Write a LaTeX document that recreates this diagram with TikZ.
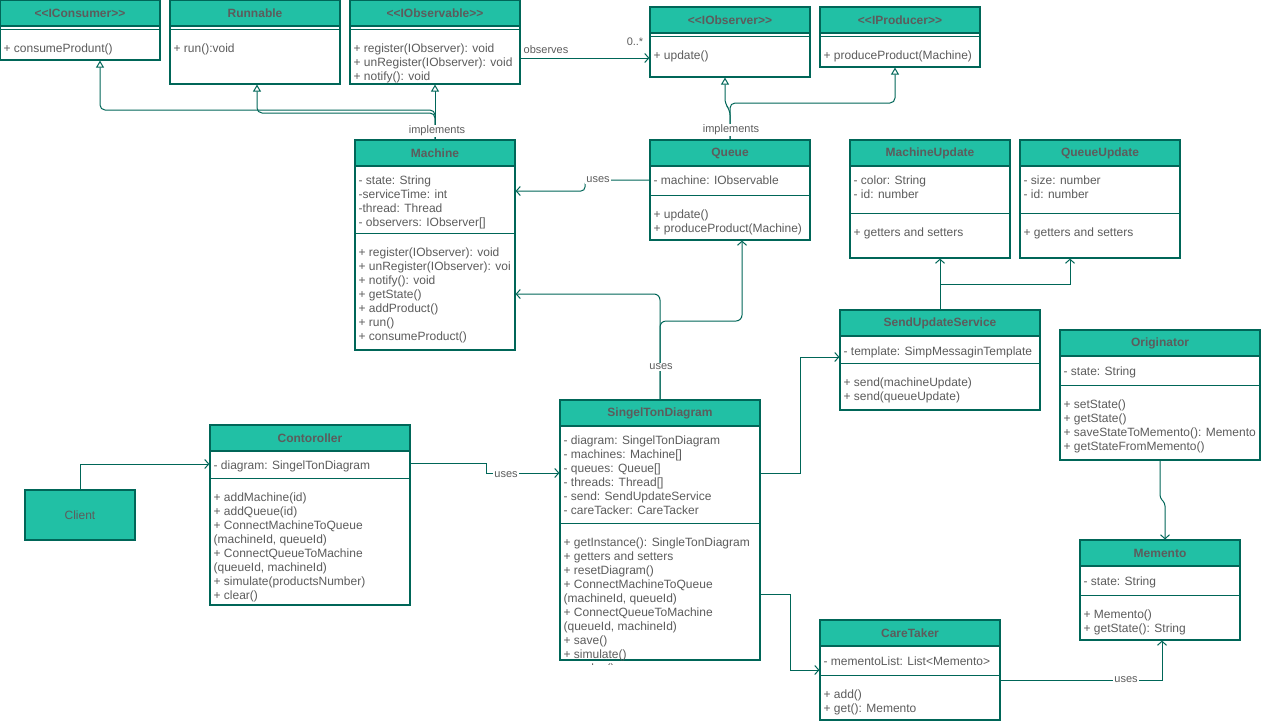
\documentclass[tikz,border=0pt]{standalone}
\usepackage{fontspec}
\setmainfont{Liberation Sans}
\usetikzlibrary{arrows.meta}

\definecolor{umlfill}{HTML}{21C0A5}
\definecolor{umlline}{HTML}{006658}
\definecolor{umltext}{HTML}{5C5C5C}

\tikzset{
  classbox/.style={draw=umlline, fill=white, line width=1.2pt, inner sep=0pt},
  classhead/.style={draw=umlline, fill=umlfill, line width=1.2pt, minimum height=26pt, inner sep=0pt,
    text=umltext, font=\fontsize{12}{14}\selectfont\bfseries},
  members/.style={anchor=north west, inner sep=0pt, align=left, text=umltext,
    font=\fontsize{12}{14}\selectfont},
  sepline/.style={draw=umlline, line width=1.2pt},
  assoc/.style={draw=umlline, line width=1pt, -{Straight Barb[length=4pt,width=9pt]}},
  realize/.style={draw=umlline, line width=1pt, rounded corners=5pt,
    -{Triangle[open,length=7pt,width=8pt,fill=white]}},
  edgelabel/.style={fill=white, inner sep=1pt, text=umltext, font=\fontsize{11}{13}\selectfont},
}

% class box: name, left, top, width, height, title
\newcommand{\umlclass}[6]{%
  \node[classbox, minimum width=#4pt, minimum height=#5pt] (#1) at (#2+#4/2,#3+#5/2) {};
  \node[classhead, minimum width=#4pt, anchor=north] (#1-head) at (#1.north) {#6};
}
% separator line: name, offset from top
\newcommand{\umlsep}[2]{%
  \draw[sepline] ([yshift=-#2pt]#1.north west) -- ([yshift=-#2pt]#1.north east);
}
% stereotype brackets
\newcommand{\stereo}[1]{\textless\kern0pt\textless #1\textgreater\kern0pt\textgreater}
% fixed height of the first member line
\newcommand{\memstrut}{\rule{0pt}{12pt}}

\begin{document}
\begin{tikzpicture}[x=1pt,y=-1pt]
      \useasboundingbox (0,0) rectangle (1261,724);

      % Interfaces
      \umlclass{iconsumer}{0}{0}{160}{60}{\stereo{IConsumer}}
      \umlsep{iconsumer}{30}
      \node[members] (iconsumer-m) at ([xshift=4pt,yshift=-41pt]iconsumer.north west) {\memstrut+ consumeProdunt()};

      \umlclass{runnable}{170}{0}{170}{84}{Runnable}
      \umlsep{runnable}{30}
      \node[members] (runnable-m) at ([xshift=4pt,yshift=-41pt]runnable.north west) {\memstrut+ run():void};

      \umlclass{iobservable}{350}{0}{170}{84}{\stereo{IObservable}}
      \umlsep{iobservable}{30}
      \node[members] (iobservable-m) at ([xshift=4pt,yshift=-41pt]iobservable.north west)
        {\memstrut+ register(IObserver): void\\+ unRegister(IObserver): void\\+ notify(): void};

      \umlclass{iobserver}{650}{7}{160}{70}{\stereo{IObserver}}
      \umlsep{iobserver}{30}
      \node[members] (iobserver-m) at ([xshift=4pt,yshift=-41pt]iobserver.north west) {\memstrut+ update()};

      \umlclass{iproducer}{820}{7}{160}{60}{\stereo{IProducer}}
      \umlsep{iproducer}{30}
      \node[members] (iproducer-m) at ([xshift=4pt,yshift=-41pt]iproducer.north west) {\memstrut+ produceProduct(Machine)};

      % Machine and Queue
      \umlclass{machine}{355}{140}{160}{210}{Machine}
      \umlsep{machine}{94}
      \node[members] (machine-a) at ([xshift=4pt,yshift=-33pt]machine.north west)
        {\memstrut- state: String\\-serviceTime: int\\-thread: Thread\\- observers: IObserver[]};
      \node[members] (machine-m) at ([xshift=4pt,yshift=-105pt]machine.north west)
        {\memstrut+ register(IObserver): void\\+ unRegister(IObserver): voi\\+ notify(): void\\+ getState()\\+ addProduct()\\+ run()\\+ consumeProduct()};

      \umlclass{queue}{650}{140}{160}{100}{Queue}
      \umlsep{queue}{56}
      \node[members] (queue-a) at ([xshift=4pt,yshift=-33pt]queue.north west) {\memstrut- machine: IObservable};
      \node[members] (queue-m) at ([xshift=4pt,yshift=-67pt]queue.north west)
        {\memstrut+ update()\\+ produceProduct(Machine)};

      % Updates
      \umlclass{mupdate}{850}{140}{160}{118}{MachineUpdate}
      \umlsep{mupdate}{74}
      \node[members] (mupdate-a) at ([xshift=4pt,yshift=-33pt]mupdate.north west) {\memstrut- color: String\\- id: number};
      \node[members] (mupdate-m) at ([xshift=4pt,yshift=-85pt]mupdate.north west) {\memstrut+ getters and setters};

      \umlclass{qupdate}{1020}{140}{160}{118}{QueueUpdate}
      \umlsep{qupdate}{74}
      \node[members] (qupdate-a) at ([xshift=4pt,yshift=-33pt]qupdate.north west) {\memstrut- size: number\\- id: number};
      \node[members] (qupdate-m) at ([xshift=4pt,yshift=-85pt]qupdate.north west) {\memstrut+ getters and setters};

      \umlclass{sender}{840}{310}{200}{100}{SendUpdateService}
      \umlsep{sender}{54}
      \node[members] (sender-a) at ([xshift=4pt,yshift=-34pt]sender.north west) {\memstrut- template: SimpMessaginTemplate};
      \node[members] (sender-m) at ([xshift=4pt,yshift=-65pt]sender.north west)
        {\memstrut+ send(machineUpdate)\\+ send(queueUpdate)};

      % Memento part
      \umlclass{origin}{1060}{330}{200}{130}{Originator}
      \umlsep{origin}{56}
      \node[members] (origin-a) at ([xshift=4pt,yshift=-34pt]origin.north west) {\memstrut- state: String};
      \node[members] (origin-m) at ([xshift=4pt,yshift=-67pt]origin.north west)
        {\memstrut+ setState()\\+ getState()\\+ saveStateToMemento(): Memento\\+ getStateFromMemento()};

      \umlclass{memento}{1080}{540}{160}{100}{Memento}
      \umlsep{memento}{56}
      \node[members] (memento-a) at ([xshift=4pt,yshift=-34pt]memento.north west) {\memstrut- state: String};
      \node[members] (memento-m) at ([xshift=4pt,yshift=-67pt]memento.north west)
        {\memstrut+ Memento()\\+ getState(): String};

      \umlclass{taker}{820}{620}{180}{100}{CareTaker}
      \umlsep{taker}{56}
      \node[members] (taker-a) at ([xshift=4pt,yshift=-34pt]taker.north west) {\memstrut- mementoList: List\textless Memento\textgreater};
      \node[members] (taker-m) at ([xshift=4pt,yshift=-67pt]taker.north west)
        {\memstrut+ add()\\+ get(): Memento};

      % Diagram and controller
      \umlclass{diagram}{560}{400}{200}{260}{SingelTonDiagram}
      \umlsep{diagram}{124}
      \node[members] (diagram-a) at ([xshift=4pt,yshift=-33pt]diagram.north west)
        {\memstrut- diagram: SingelTonDiagram\\- machines: Machine[]\\- queues: Queue[]\\- threads: Thread[]\\- send: SendUpdateService\\- careTacker: CareTacker};
      \node[members] (diagram-m) at ([xshift=4pt,yshift=-135pt]diagram.north west)
        {\memstrut+ getInstance(): SingleTonDiagram\\+ getters and setters\\+ resetDiagram()\\+ ConnectMachineToQueue\\(machineId, queueId)\\+ ConnectQueueToMachine\\(queueId, machineId)\\+ save()\\+ simulate()};
      \begin{scope}
        \clip (560,661) rectangle (760,664);
        \node[members] (diagram-r) at ([xshift=4pt,yshift=-261pt]diagram.north west) {\memstrut+ replay()};
      \end{scope}

      \umlclass{ctrl}{210}{425}{200}{180}{Contoroller}
      \umlsep{ctrl}{54}
      \node[members] (ctrl-a) at ([xshift=4pt,yshift=-33pt]ctrl.north west) {\memstrut- diagram: SingelTonDiagram};
      \node[members] (ctrl-m) at ([xshift=4pt,yshift=-65pt]ctrl.north west)
        {\memstrut+ addMachine(id)\\+ addQueue(id)\\+ ConnectMachineToQueue\\(machineId, queueId)\\+ ConnectQueueToMachine\\(queueId, machineId)\\+ simulate(productsNumber)\\+ clear()};

      \node[draw=umlline, fill=umlfill, line width=1.2pt, minimum width=110pt, minimum height=50pt,
        text=umltext, font=\fontsize{12}{14}\selectfont] (client) at (80,515) {Client};

      % Realizations
      \draw[realize] (machine.north) |- (100,110) -- ([xshift=20pt]iconsumer.south);
      \draw[realize] (machine.north) |- (257,113) -- ([xshift=2pt]runnable.south);
      \draw[realize] (machine.north) -- (iobservable.south);
      \node[edgelabel] (impl-m) at (437,131) {implements};

      \draw[realize] (queue.north) -- (730,110) -- (725,104) -- ([xshift=-5pt]iobserver.south);
      \draw[realize] (queue.north) |- (895,103) -- ([xshift=-5pt]iproducer.south);
      \node[edgelabel] (impl-q) at (731,130) {implements};

      % Associations
      \draw[assoc] ([yshift=-16pt]iobservable.east) -- ([yshift=-16pt]iobserver.west);
      \node[edgelabel, fill=none] (obs-l) at (546,50) {observes};
      \node[edgelabel, fill=none] (obs-m) at (635,42) {0..*};

      \draw[assoc, rounded corners=4pt] ([yshift=10pt]queue.west) -- (585,180) -- (585,191) -- ([yshift=54pt]machine.east);
      \node[edgelabel] (uses-q) at (598,180) {uses};

      \draw[assoc, rounded corners=6pt] (diagram.north) -- (660,294) -- ([yshift=-49pt]machine.east);
      \draw[assoc, rounded corners=6pt] (diagram.north) -- (660,321) -- (742,321) -- ([xshift=12pt]queue.south);
      \node[edgelabel] (uses-d) at (661,367) {uses};

      \draw[assoc] (client.north) |- ([yshift=51pt]ctrl.west);

      \draw[assoc] ([yshift=52pt]ctrl.east) -- (486,463) -- (486,473) -- ([yshift=57pt]diagram.west);
      \node[edgelabel] (uses-c) at (506,475) {uses};

      \draw[assoc] ([yshift=57pt]diagram.east) -- (800,473) -- (800,357) -- ([yshift=3pt]sender.west);

      \draw[assoc] (sender.north) -- ([xshift=10pt]mupdate.south);
      \draw[assoc] (sender.north) |- (1070,284) -- ([xshift=-30pt]qupdate.south);

      \draw[assoc] ([yshift=-64pt]diagram.east) -- (790,594) -- (790,670) -- (taker.west);

      \draw[assoc, rounded corners=3pt] (origin.south) -- (1160,498) -- (1165,503) -- ([xshift=5pt]memento.north);

      \draw[assoc] ([yshift=-10pt]taker.east) -| ([xshift=2pt]memento.south);
      \node[edgelabel] (uses-t) at (1126,680) {uses};

    \end{tikzpicture}
\end{document}
